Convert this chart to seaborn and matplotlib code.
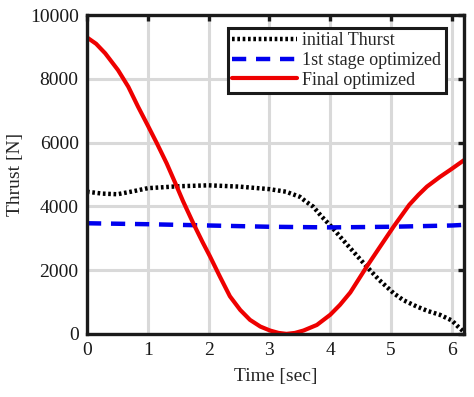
import matplotlib
matplotlib.use("Agg")
import numpy as np
import pandas as pd
import matplotlib.pyplot as plt
import seaborn as sns

# values
time_red = [0, 0.15, 0.3, 0.51, 0.68, 0.84, 1.01, 1.15, 1.31, 1.45, 1.58, 1.75, 1.9,
            2.02, 2.19, 2.35, 2.52, 2.68, 2.85, 3.01, 3.15, 3.28, 3.42, 3.56, 3.78,
            4.0, 4.16, 4.33, 4.45, 4.6, 4.8, 5.04, 5.3, 5.45, 5.59, 5.8, 5.97, 6.2]
final_opt = [9300, 9100, 8800, 8275, 7750, 7125, 6500, 5975, 5350, 4740, 4160, 3460, 2880,
             2440, 1780, 1180, 750, 440, 230, 105, 30, 0, 30, 105, 280,
             600, 910, 1300, 1660, 2110, 2680, 3360, 4050, 4360, 4620, 4920, 5140, 5450]

time_black = [0, 0.25, 0.5, 0.75, 1.0, 1.5, 2.0, 2.5, 3.0, 3.27, 3.5, 3.6, 3.72, 3.85,
              4.02, 4.3, 4.6, 4.8, 5.04, 5.2, 5.42, 5.6, 5.8, 6.0, 6.1, 6.2]
initial_thrust = [4460, 4400, 4380, 4470, 4570, 4630, 4660, 4620, 4540, 4460, 4300, 4150,
                  3990, 3700, 3360, 2750, 2110, 1700, 1280, 1060, 860, 720, 600, 420, 230, 60]

time_blue = [0, 1, 2, 3, 4, 5, 6, 6.2]
first_stage = [3470, 3440, 3400, 3360, 3340, 3360, 3400, 3420]

sns.set_theme(style="white")
plt.rcParams['font.family'] = ['Liberation Serif', 'DejaVu Serif']

fig = plt.figure(figsize=(4.74, 3.97), dpi=100)
ax = fig.add_axes([0.1835, 0.159, 0.7955, 0.803])

df_black = pd.DataFrame({'t': time_black, 'v': initial_thrust})
df_blue = pd.DataFrame({'t': time_blue, 'v': first_stage})
df_red = pd.DataFrame({'t': time_red, 'v': final_opt})

sns.lineplot(data=df_black, x='t', y='v', ax=ax, color='black', lw=3.2,
             label='initial Thurst', linestyle=(0, (0.6, 0.6)))
sns.lineplot(data=df_blue, x='t', y='v', ax=ax, color='#0000ee', lw=3.2,
             label='1st stage optimized', linestyle=(0, (3.2, 2.2)))
sns.lineplot(data=df_red, x='t', y='v', ax=ax, color='#ee0000', lw=3.0,
             label='Final optimized')

ax.set_xlim(0, 6.2)
ax.set_ylim(0, 10000)
ax.set_xticks([0, 1, 2, 3, 4, 5, 6])
ax.set_yticks([0, 2000, 4000, 6000, 8000, 10000])
ax.grid(True, color='#d9d9d9', lw=2.2)
ax.set_axisbelow(True)
for s in ax.spines.values():
    s.set_color('#1a1a1a')
    s.set_linewidth(2.4)
ax.tick_params(direction='in', length=4, width=2.4, top=True, right=True,
               labelsize=14, colors='#1a1a1a', pad=6)
ax.set_xlabel('Time [sec]', fontsize=14, labelpad=6)
ax.set_ylabel('Thrust [N]', fontsize=14, labelpad=4)

leg = ax.legend(loc='upper right', bbox_to_anchor=(0.952, 0.96), fontsize=13,
                frameon=True, fancybox=False, handlelength=3.6, labelspacing=0.15,
                borderpad=0.25, handletextpad=0.3, borderaxespad=0)
leg.get_frame().set_edgecolor('#1a1a1a')
leg.get_frame().set_linewidth(2.2)
leg.get_frame().set_alpha(1)

fig.savefig('out.png', dpi=100)
